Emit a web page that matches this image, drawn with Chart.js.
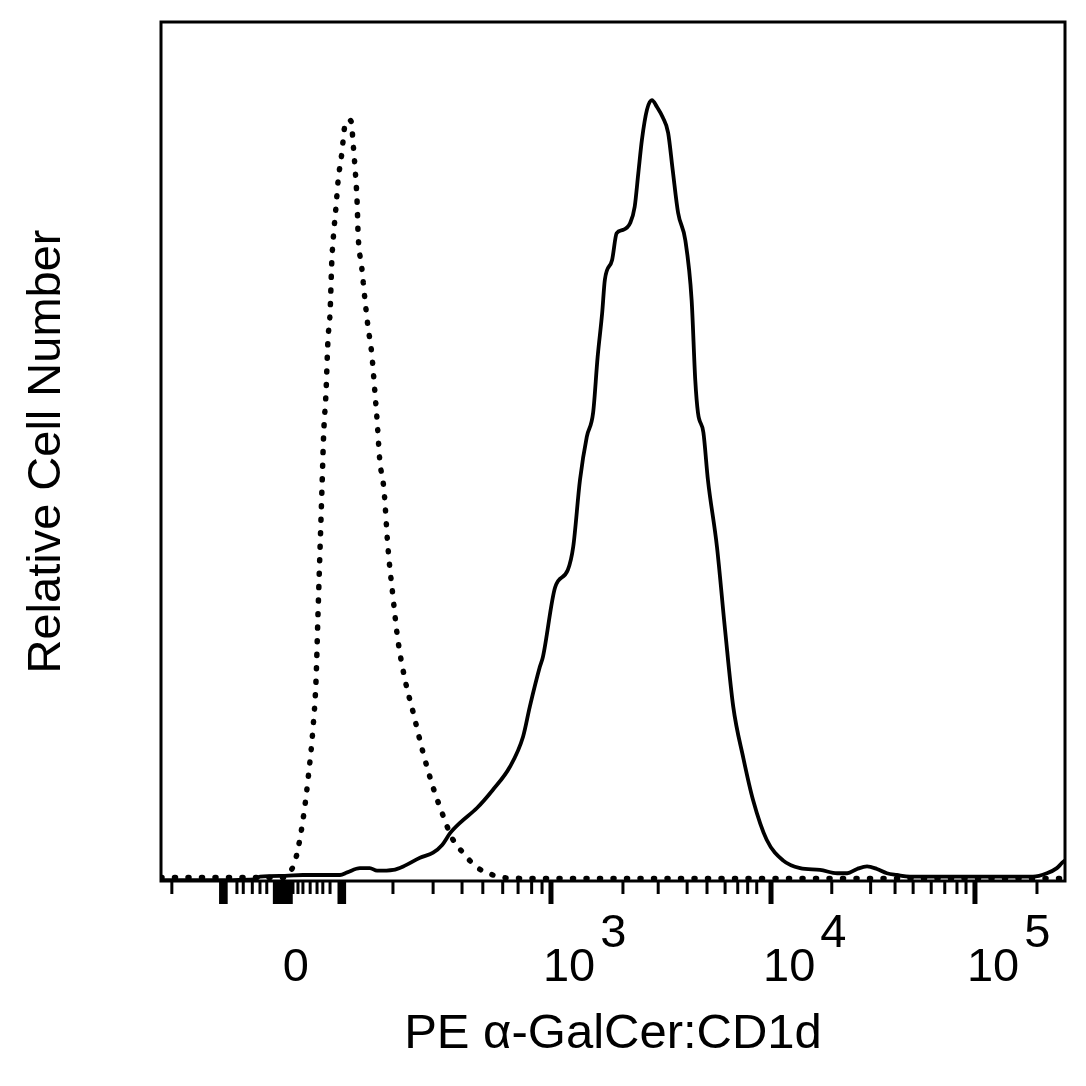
<!DOCTYPE html>
<html>
<head>
<meta charset="utf-8">
<script src="https://cdn.jsdelivr.net/npm/chart.js@4.4.0/dist/chart.umd.min.js"></script>
<style>
  html, body { margin: 0; padding: 0; background: #fff; }
  #wrap { position: relative; width: 1086px; height: 1086px; }
</style>
</head>
<body>
<div id="wrap"><canvas id="chart"></canvas></div>
<script>
// x is the display channel (0-1000) of the biexponential axis, y is % of max
const solidX = [0, 43, 104, 109.5, 137, 157, 198, 206, 220, 231, 239, 257, 268, 286.5, 301, 311, 320, 331, 349.5, 367,
  386, 400.5, 408, 419, 422.5, 436, 450, 456, 463.5, 471, 478, 483, 488, 491, 499, 504, 511, 519, 524, 528,
  532, 537.6, 543, 548.7, 555, 561, 566, 572, 580, 587, 591, 594, 600, 605, 615, 624, 633, 644, 655, 670,
  688, 707, 729, 748, 759, 770, 781, 792, 803, 814, 828.5, 902.6, 964.6, 980, 991, 996.7, 1000];
const solidY = [0.1, 0.1, 0.2, 0.5, 0.6, 0.7, 0.7, 1.0, 1.5, 1.5, 1.2, 1.3, 1.7, 2.7, 3.3, 4.2, 5.6, 6.8, 8.5, 10.6,
  13.3, 16.8, 20.3, 24.9, 26.1, 34.2, 36.2, 38.9, 46.7, 51.7, 54.5, 61.0, 66.1, 70.0, 72.3, 75.4, 75.8, 76.6, 78.5, 82.4,
  86.3, 89.8, 90.9, 90.1, 88.9, 87.1, 82.8, 77.8, 74.6, 67.6, 58.3, 54.5, 52.2, 46.7, 38.9, 29.2, 20.3, 14.4, 9.4, 4.8,
  2.4, 1.5, 1.3, 0.9, 0.9, 1.4, 1.7, 1.4, 0.9, 0.7, 0.5, 0.5, 0.5, 0.9, 1.5, 2.1, 2.4];

const dottedX = [0, 137, 141.6, 148, 154, 159, 162.6, 168, 171.5, 173.7, 176, 178, 180, 182.5, 184.7, 187, 189, 191, 193.6, 196,
  200, 203.5, 208, 211, 212, 214.6, 217, 218, 222, 225.7, 229, 233, 236.7, 239, 242, 246.7, 251, 256.6, 262, 270,
  279, 290, 301, 311, 322, 334, 349.5, 367, 383, 408, 1000];
const dottedY = [0.4, 0.4, 0.9, 2.2, 5.1, 8.6, 11.8, 17.6, 23.4, 31.2, 38.9, 45.5, 52.2, 56.8, 63.0, 66.1, 72.3, 75.4, 78.5, 81.6,
  84.7, 88.0, 88.6, 88.2, 86.6, 83.1, 78.9, 75.4, 71.5, 67.6, 64.5, 61.5, 56.8, 53.7, 49.0, 45.5, 38.9, 33.1, 28.1, 23.4,
  19.6, 14.9, 10.9, 7.9, 5.0, 3.3, 1.6, 0.7, 0.35, 0.3, 0.3];

// tick marks in channel units
const majorTicks = [67, 71, 126.5, 130, 133.5, 137, 140.5, 143, 198, 202, 431.4, 674.8, 900.4];
const minorTicks = [12, 84, 91, 101, 109.5, 117, 146, 151.5, 157, 165, 172.6, 179, 187,
  256.6, 301, 333, 356, 378, 395, 410, 421.5,
  511, 550, 582, 604, 624, 638, 649, 659,
  742, 785, 812, 832, 852, 867, 880.5, 890.5, 969];
const labelTicks = [137, 431.4, 674.8, 900.4];
const labelBase = ['0', '10', '10', '10'];
const labelExp = ['', '3', '4', '5'];

const FONT = '"Liberation Sans", Arial, sans-serif';

function toPoints(xs, ys) {
  return xs.map((v, i) => ({x: v, y: ys[i]}));
}

const flowAxis = {
  id: 'flowAxis',
  afterDraw(chart) {
    const {ctx, chartArea: a} = chart;
    const x = chart.scales.x;
    ctx.save();
    ctx.strokeStyle = '#000';
    ctx.lineCap = 'butt';

    function tick(v, len, w) {
      const px = x.getPixelForValue(v);
      ctx.lineWidth = w;
      ctx.beginPath();
      ctx.moveTo(px, a.bottom);
      ctx.lineTo(px, a.bottom + len);
      ctx.stroke();
    }
    minorTicks.forEach(v => tick(v, 13, 3));
    majorTicks.forEach(v => tick(v, 23, 5));

    ctx.lineWidth = 3;
    ctx.strokeRect(a.left, a.top, a.right - a.left, a.bottom - a.top);

    ctx.fillStyle = '#000';
    ctx.font = '47px ' + FONT;
    ctx.textAlign = 'left';
    ctx.textBaseline = 'alphabetic';
    labelTicks.forEach((v, i) => {
      const px = x.getPixelForValue(v);
      const x0 = px + (labelExp[i] ? -8 : -2);
      ctx.fillText(labelBase[i], x0, a.bottom + 100);
      if (labelExp[i]) {
        ctx.fillText(labelExp[i], x0 + ctx.measureText(labelBase[i]).width + 5, a.bottom + 66);
      }
    });
    ctx.restore();
  }
};

new Chart(document.getElementById('chart'), {
  type: 'line',
  data: {
    datasets: [
      {
        label: 'stained',
        data: toPoints(solidX, solidY),
        borderColor: '#000',
        borderWidth: 3.8,
        pointRadius: 0,
        cubicInterpolationMode: 'monotone',
        fill: false
      },
      {
        label: 'control',
        data: toPoints(dottedX, dottedY),
        borderColor: '#000',
        borderWidth: 5.5,
        borderDash: [1, 12.5],
        borderCapStyle: 'round',
        pointRadius: 0,
        cubicInterpolationMode: 'monotone',
        fill: false
      }
    ]
  },
  options: {
    responsive: true,
    maintainAspectRatio: false,
    animation: false,
    layout: { padding: { top: 22, right: 21, left: 0, bottom: 0 } },
    plugins: { legend: { display: false }, tooltip: { enabled: false } },
    scales: {
      x: {
        type: 'linear',
        min: 0,
        max: 1000,
        grid: { display: false },
        border: { display: false },
        ticks: { display: false },
        title: {
          display: true,
          text: 'PE α-GalCer:CD1d',
          color: '#000',
          font: { family: FONT, size: 49 },
          padding: { top: 0, bottom: 22 }
        },
        afterFit(scale) { scale.height = 205; }
      },
      y: {
        min: 0,
        max: 100,
        grid: { display: false },
        border: { display: false },
        ticks: { display: false },
        title: {
          display: true,
          text: 'Relative Cell Number',
          color: '#000',
          font: { family: FONT, size: 47 },
          padding: { top: 19, bottom: 0 }
        },
        afterFit(scale) { scale.width = 161; }
      }
    }
  },
  plugins: [flowAxis]
});
</script>
</body>
</html>
